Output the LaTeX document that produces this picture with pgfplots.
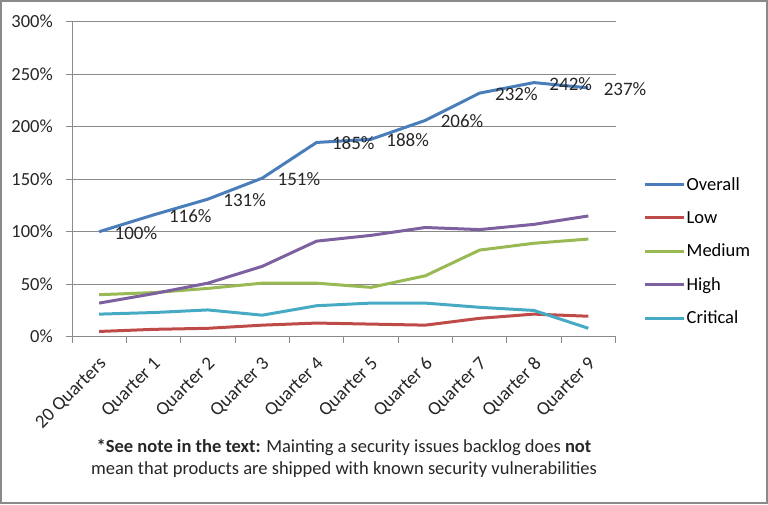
\documentclass[border=0pt]{standalone}
\usepackage{fontspec}
\setmainfont{Carlito}
\usepackage{pgfplots}
\pgfplotsset{compat=1.18}
\definecolor{cOverall}{HTML}{4A7EBB}
\definecolor{cLow}{HTML}{BE4B48}
\definecolor{cMed}{HTML}{98B954}
\definecolor{cHigh}{HTML}{7D60A0}
\definecolor{cCrit}{HTML}{46AAC5}
\definecolor{gridc}{HTML}{8A8A8A}
\begin{document}
\begin{tikzpicture}[x=1pt,y=1pt]
\useasboundingbox (0,0) rectangle (768,504);
\draw[color=gridc, line width=2pt] (1,1) rectangle (767,503);
\begin{axis}[
  at={(72pt,167.3pt)}, anchor=south west,
  scale only axis, width=543.5pt, height=315pt,
  xmin=-0.5, xmax=9.5, ymin=0, ymax=300,
  xtick={-0.5,0.5,...,9.5},
  x tick label as interval,
  xticklabels={20 Quarters,Quarter 1,Quarter 2,Quarter 3,Quarter 4,Quarter 5,Quarter 6,Quarter 7,Quarter 8,Quarter 9},
  ytick={0,50,...,300},
  yticklabel={\pgfmathprintnumber{\tick}\%},
  /pgf/number format/assume math mode=true,
  ymajorgrids, grid style={draw=gridc, line width=1pt},
  axis lines*=left,
  axis line style={draw=gridc, line width=1pt},
  tick style={draw=gridc, line width=1pt},
  tick align=outside, major tick length=6pt,
  tick label style={font=\fontsize{18.5}{22}\selectfont, text=black!85},
  yticklabel style={inner sep=0pt, xshift=-13pt},
  xticklabel style={font=\fontsize{19}{22}\selectfont, xshift=-1pt, yshift=-13pt, rotate=45, anchor=north east, inner sep=0pt},
  legend style={draw=none, fill=none, at={(axis description cs:1.0506,0.2705)}, anchor=west,
    font=\fontsize{18.5}{22}\selectfont, row sep=19.25pt, inner sep=0pt,
    nodes={inner xsep=1.5pt, inner ysep=0pt}},
  legend cell align=left,
  legend image code/.code={\draw[#1, line width=3pt] (0pt,0pt) -- (39pt,0pt);},
  every axis plot/.append style={line width=3pt, mark=none},
  clip=false,
]
\addplot[color=cOverall, nodes near coords={\pgfmathprintnumber{\pgfplotspointmeta}\%},
  point meta=y,
  every node near coord/.append style={anchor=west, inner sep=0pt, xshift=14pt, yshift=-1pt,
    font=\fontsize{19}{22}\selectfont, text=black!85}]
  coordinates {(0,100) (1,116) (2,131) (3,151) (4,185) (5,188) (6,206) (7,232) (8,242) (9,237)};
\addlegendentry{Overall}
\addplot[color=cLow] coordinates {(0,5) (1,7) (2,8) (3,11) (4,13) (5,12) (6,11) (7,17.5) (8,21.5) (9,19.5)};
\addlegendentry{Low}
\addplot[color=cMed] coordinates {(0,40) (1,42) (2,46) (3,51) (4,51) (5,47) (6,58) (7,82.5) (8,89) (9,93)};
\addlegendentry{Medium}
\addplot[color=cHigh] coordinates {(0,32) (1,41) (2,51) (3,67) (4,91) (5,96.5) (6,104) (7,102) (8,107) (9,115)};
\addlegendentry{High}
\addplot[color=cCrit] coordinates {(0,21.5) (1,23) (2,25.5) (3,20.5) (4,29.5) (5,32) (6,32) (7,28) (8,25) (9,8)};
\addlegendentry{Critical}
\end{axis}
\node[anchor=base, font=\fontsize{18.5}{21}\selectfont, text=black!85] at (344,52)
  {\textbf{*See note in the text:} Mainting a security issues backlog does \textbf{not}};
\node[anchor=base, font=\fontsize{18.5}{21}\selectfont, text=black!85] at (344,30)
  {mean that products are shipped with known security vulnerabilities};
\end{tikzpicture}
\end{document}
